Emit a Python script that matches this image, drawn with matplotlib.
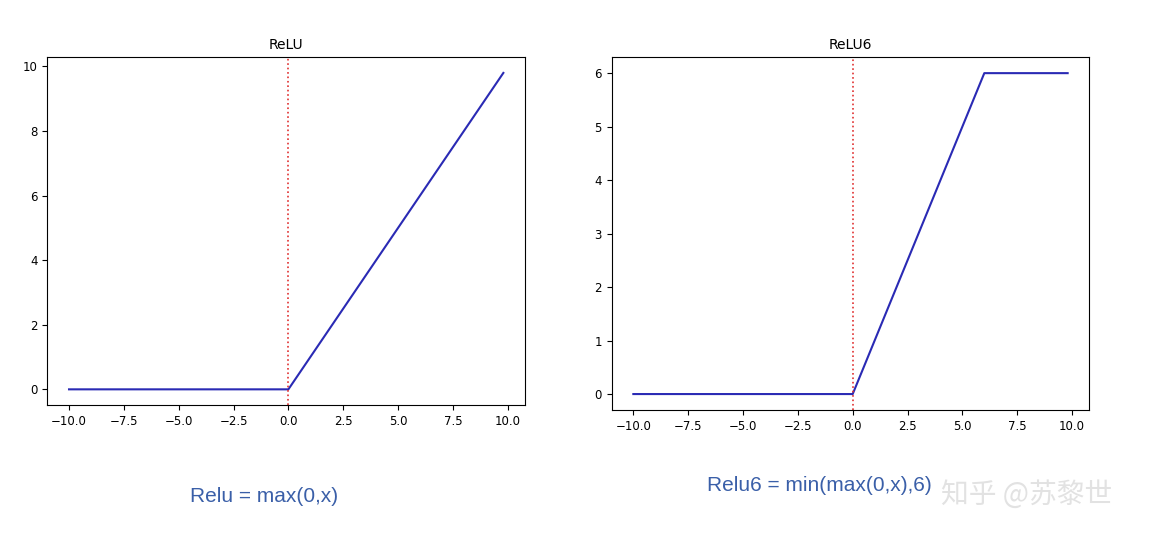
import matplotlib
matplotlib.use("Agg")
import matplotlib.pyplot as plt

relu_x = [-10, 0, 9.8]
relu_y = [0, 0, 9.8]
relu6_x = [-10, 0, 6, 9.8]
relu6_y = [0, 0, 6, 6]
xticks = [-10.0, -7.5, -5.0, -2.5, 0.0, 2.5, 5.0, 7.5, 10.0]

plt.rcParams['font.family'] = ['DejaVu Sans', 'Noto Sans CJK SC']
fig = plt.figure(figsize=(11.54, 5.49), dpi=100)
ax1 = fig.add_axes([0.041, 0.262, 0.414, 0.634])
ax2 = fig.add_axes([0.530, 0.253, 0.414, 0.643])

for ax, x, y, t, yt in [(ax1, relu_x, relu_y, "ReLU", [0, 2, 4, 6, 8, 10]),
                        (ax2, relu6_x, relu6_y, "ReLU6", [0, 1, 2, 3, 4, 5, 6])]:
    ax.plot(x, y, color='#2a2ab4', lw=1.5)
    ax.axvline(0, color='#e03030', ls=':', lw=1.2)
    ax.set_title(t, fontsize=10)
    ax.set_xticks(xticks)
    ax.set_yticks(yt)
    ax.tick_params(labelsize=8.5)

fig.text(0.165, 0.085, "Relu = max(0,x)", color='#3a5fa8', fontsize=15, family='Liberation Sans')
fig.text(0.613, 0.105, "Relu6 = min(max(0,x),6)", color='#3a5fa8', fontsize=15, family='Liberation Sans')
fig.text(0.815, 0.085, "知乎 @苏黎世", color='#dddddd', alpha=0.85, fontsize=20,
         family=['Noto Sans CJK SC', 'DejaVu Sans'])
fig.savefig("out.png", dpi=100)
